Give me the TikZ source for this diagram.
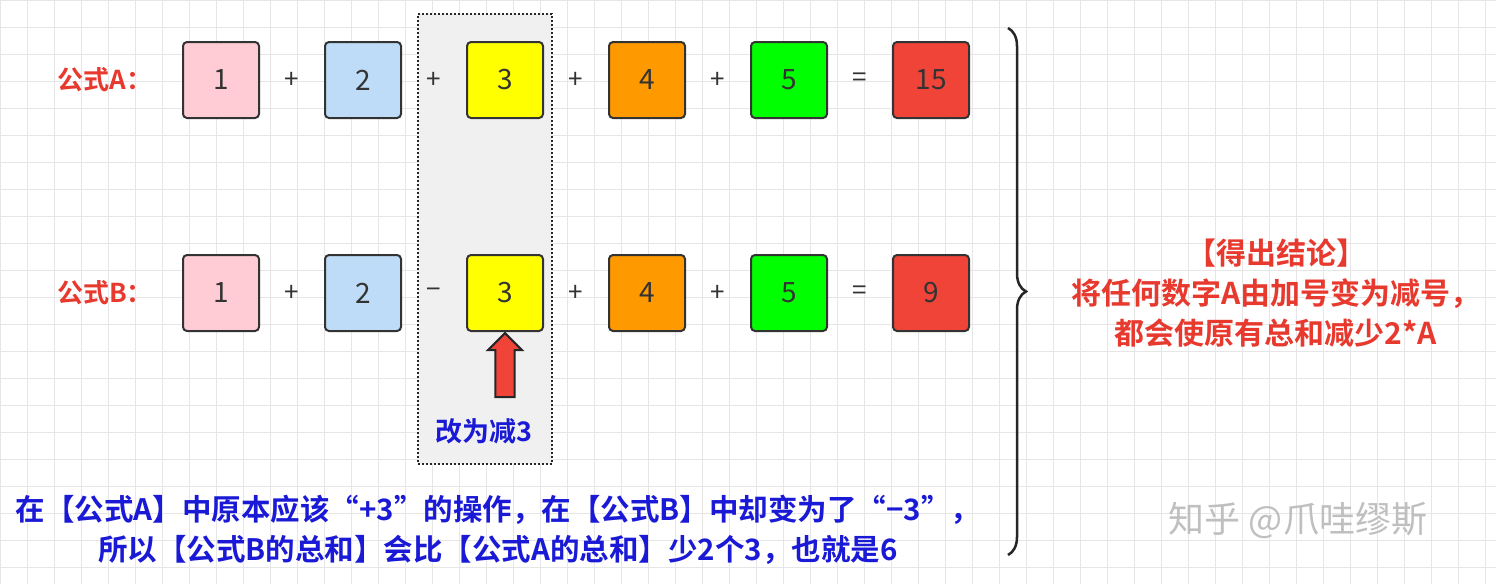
\documentclass[tikz,border=0pt]{standalone}
\usepackage{fontspec}
\setmainfont{Noto Sans CJK SC}[BoldFont={Noto Sans CJK SC Bold}]
\usetikzlibrary{decorations.pathreplacing,shapes.arrows}
\definecolor{fa}{HTML}{FFCCD5}
\definecolor{fb}{HTML}{BEDCF8}
\definecolor{fc}{HTML}{FFFF00}
\definecolor{fd}{HTML}{FF9900}
\definecolor{fe}{HTML}{00FF00}
\definecolor{ff}{HTML}{F04438}
\definecolor{redt}{HTML}{E8392E}
\definecolor{bluet}{HTML}{1A1AD6}
\definecolor{gridc}{HTML}{E6E6E6}
\tikzset{
 numbox/.style={draw=black!80,line width=2pt,rounded corners=4pt,minimum width=76pt,minimum height=76pt,font=\fontsize{28}{32}\selectfont,text=black!80},
 op/.style={font=\fontsize{26}{30}\selectfont,text=black!80},
 lab/.style={font=\fontsize{26}{30}\selectfont\bfseries,text=redt},
}
\begin{document}
\begin{tikzpicture}[x=1pt,y=-1pt]
\useasboundingbox (0,0) rectangle (1496,584);
\fill[white] (0,0) rectangle (1496,584);
\foreach \i in {0,...,56}{\draw[gridc,line width=0.6pt] (\i*27,0) -- (\i*27,584);}
\foreach \j in {0,...,22}{\draw[gridc,line width=0.6pt] (0,\j*27) -- (1496,\j*27);}
\node[draw=black!85,dotted,line width=2pt,fill=black!6,minimum width=134pt,minimum height=450pt] (hl) at (485,239) {};
\foreach \r/\y/\res/\s/\L in {a/80/15/+/A,b/293/9/−/B}{
 \node[lab] (l\r) at (105,\y) {公式\L：};
 \node[numbox,fill=fa] (\r1) at (221,\y) {1};
 \node[numbox,fill=fb] (\r2) at (363,\y) {2};
 \node[numbox,fill=fc] (\r3) at (505,\y) {3};
 \node[numbox,fill=fd] (\r4) at (647,\y) {4};
 \node[numbox,fill=fe] (\r5) at (789,\y) {5};
 \node[numbox,fill=ff] (\r6) at (931,\y) {\res};
 \node[op] (\r p1) at (292,\y) {+};
 \node[op] (\r p2) at (434,\y) {\s};
 \node[op] (\r p3) at (576,\y) {+};
 \node[op] (\r p4) at (718,\y) {+};
 \node[op] (\r eq) at (860,\y) {=};
}
\node[single arrow,draw=black!85,line width=2pt,fill=ff,rotate=90,minimum height=64pt,minimum width=34pt,single arrow head extend=3pt,inner sep=3pt] (arr) at (505,370) {};
\node[font=\fontsize{27}{30}\selectfont\bfseries,text=bluet] (chg) at (484,431) {改为减3};
\coordinate (bt) at (1008,28);
\coordinate (bb) at (1008,555);
\draw[black!85,line width=2.5pt,decorate,decoration={brace,amplitude=18pt}] (bt) -- (bb);
\node[font=\fontsize{30}{40}\selectfont\bfseries,text=redt,align=center] (concl) at (1276,293) {【得出结论】\\将任何数字A由加号变为减号，\\都会使原有总和减少2*A};
\node[font=\fontsize{29.5}{40}\selectfont\bfseries,text=bluet,align=center] (expl) at (498,530) {在【公式A】中原本应该“+3”的操作，在【公式B】中却变为了“−3”，\\所以【公式B的总和】会比【公式A的总和】少2个3，也就是6};
\node[font=\fontsize{36}{38}\selectfont,text=black!25] (wm) at (1298,520) {知乎 @爪哇缪斯};
\end{tikzpicture}
\end{document}
